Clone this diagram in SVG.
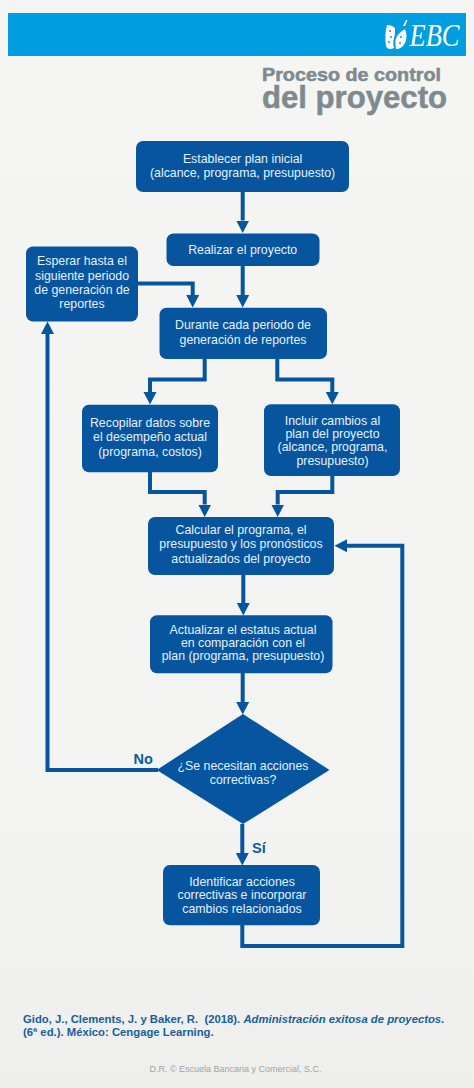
<svg xmlns="http://www.w3.org/2000/svg" width="474" height="1088" viewBox="0 0 474 1088">
<style>
.box{fill:#07559f}
.t{font-family:"Liberation Sans",Arial,sans-serif;font-size:12.35px;fill:#e3f1fa;text-anchor:middle}
.c{fill:none;stroke:#07559f;stroke-width:4;stroke-linejoin:miter}
.lab{font-family:"Liberation Sans",Arial,sans-serif;font-weight:bold;font-size:14.5px;fill:#0d5a9c}
.cit{font-family:"Liberation Sans",Arial,sans-serif;font-weight:bold;font-size:11.3px;fill:#17609f;white-space:pre}
.ttl{font-family:"Liberation Sans",Arial,sans-serif;font-weight:bold;fill:#7f8a8f;stroke:#7f8a8f;stroke-width:.5}
</style>
<defs>
<linearGradient id="bg" x1="0" y1="0" x2="0" y2="1"><stop offset="0" stop-color="#f5f5f4"/><stop offset=".75" stop-color="#f3f3f2"/><stop offset="1" stop-color="#eeeeec"/></linearGradient>
<marker id="a" markerUnits="userSpaceOnUse" markerWidth="14" markerHeight="14" refX="0" refY="7" orient="auto"><path d="M0 0.5L12.5 7L0 13.5z" fill="#07559f"/></marker>
</defs>
<rect id="background" width="474" height="1088" fill="url(#bg)"/>
<g id="header">
<rect x="8" y="13" width="458" height="43" fill="#009de0"/>
<g fill="#fff">
<path d="M387 25c3 0 6 1 8 3c0 4 0 7-1 10c-1 4-1 7 0 10c-4 2-7 1-8-2c-1-7-1-14 1-21z"/>
<path d="M405 29c2 5 2 10 0 14c-2 4-5 6-9 6c-1-5-1-10 1-13c2-3 5-5 8-7z"/>
<path d="M403 26l3-6l1.5 0l-2.5 6z"/>
</g>
<g fill="#009de0"><circle cx="390" cy="31" r="1"/><circle cx="391" cy="37" r="1"/><circle cx="389" cy="42" r="1"/><circle cx="401" cy="37" r="1"/><circle cx="400" cy="43" r="1"/></g>
<text x="409.5" y="45.5" font-family="'Liberation Serif',serif" font-style="italic" font-size="31" fill="#fff" textLength="50" lengthAdjust="spacingAndGlyphs">EBC</text>
</g>
<g id="title">
<text class="ttl" x="262" y="81" font-size="18" textLength="179" lengthAdjust="spacingAndGlyphs">Proceso de control</text>
<text class="ttl" x="262" y="108" font-size="31" textLength="185" lengthAdjust="spacingAndGlyphs">del proyecto</text>
</g>
<g id="connectors">
<path class="c" marker-end="url(#a)" d="M242.7 192V220.5"/>
<path class="c" marker-end="url(#a)" d="M242.7 266V295"/>
<path class="c" marker-end="url(#a)" d="M138 283.5H192.7V295"/>
<path class="c" marker-end="url(#a)" d="M204.7 359V379.5H150V392"/>
<path class="c" marker-end="url(#a)" d="M277.3 359V379.5H332.3V392"/>
<path class="c" marker-end="url(#a)" d="M150 472V492H204.7V504.5"/>
<path class="c" marker-end="url(#a)" d="M332.3 476V492H277.7V504.5"/>
<path class="c" marker-end="url(#a)" d="M243.3 575V603"/>
<path class="c" marker-end="url(#a)" d="M242.7 673V702"/>
<path class="c" marker-end="url(#a)" d="M158 770H47.5V334"/>
<path class="c" marker-end="url(#a)" d="M242.3 824V853"/>
<path class="c" marker-end="url(#a)" d="M242.3 925V946H402.3V545.7H347"/>
</g>
<g id="n1"><rect class="box" x="136" y="141" width="213" height="51" rx="7"/><text class="t" x="242.6" y="162.5">Establecer plan inicial</text><text class="t" x="242.6" y="176.5">(alcance, programa, presupuesto)</text></g>
<g id="n2"><rect class="box" x="166.5" y="233.5" width="153" height="32.5" rx="7"/><text class="t" x="242.7" y="254">Realizar el proyecto</text></g>
<g id="n3"><rect class="box" x="26" y="246.5" width="112" height="75" rx="7"/><text class="t" x="82" y="265">Esperar hasta el</text><text class="t" x="82" y="279.5">siguiente periodo</text><text class="t" x="82" y="294">de generación de</text><text class="t" x="82" y="308.3">reportes</text></g>
<g id="n4"><rect class="box" x="159.5" y="307.7" width="167.5" height="51.3" rx="7"/><text class="t" x="243" y="329.3">Durante cada periodo de</text><text class="t" x="243" y="343.7">generación de reportes</text></g>
<g id="n5"><rect class="box" x="82" y="404.7" width="136" height="67.6" rx="7"/><text class="t" x="150" y="426.7">Recopilar datos sobre</text><text class="t" x="150" y="441.3">el desempeño actual</text><text class="t" x="150" y="455.7">(programa, costos)</text></g>
<g id="n6"><rect class="box" x="264" y="404.3" width="136" height="71.7" rx="7"/><text class="t" x="332.5" y="424.7">Incluir cambios al</text><text class="t" x="332.5" y="438">plan del proyecto</text><text class="t" x="332.5" y="451.3">(alcance, programa,</text><text class="t" x="332.5" y="464.7">presupuesto)</text></g>
<g id="n7"><rect class="box" x="148" y="517" width="186" height="58" rx="7"/><text class="t" x="241" y="533.7">Calcular el programa, el</text><text class="t" x="241" y="548">presupuesto y los pronósticos</text><text class="t" x="241" y="562.7">actualizados del proyecto</text></g>
<g id="n8"><rect class="box" x="150" y="615.3" width="182.5" height="58" rx="7"/><text class="t" x="243" y="633.7">Actualizar el estatus actual</text><text class="t" x="243" y="647">en comparación con el</text><text class="t" x="243" y="660.3">plan (programa, presupuesto)</text></g>
<g id="n9"><polygon class="box" points="243,714 329.5,770 243,824 156.7,770"/><text class="t" x="243" y="770.3">¿Se necesitan acciones</text><text class="t" x="243" y="783.7">correctivas?</text></g>
<g id="n10"><rect class="box" x="163" y="865" width="157" height="60.3" rx="7"/><text class="t" x="242" y="886">Identificar acciones</text><text class="t" x="242" y="899.3">correctivas e incorporar</text><text class="t" x="242" y="912.7">cambios relacionados</text></g>
<g id="labels">
<text class="lab" x="133.5" y="764">No</text>
<text class="lab" x="252" y="852.7">Sí</text>
</g>
<g id="citation">
<text class="cit" x="23" y="1022.7">Gido, J., Clements, J. y Baker, R.  (2018). <tspan font-style="italic">Administración exitosa de proyectos.</tspan></text>
<text class="cit" x="23" y="1036">(6ª ed.). México: Cengage Learning.</text>
</g>
<text id="footer" x="235.5" y="1072" font-family="'Liberation Sans',Arial,sans-serif" font-size="9" fill="#a3a3a3" text-anchor="middle">D.R. © Escuela Bancaria y Comercial, S.C.</text>
</svg>
